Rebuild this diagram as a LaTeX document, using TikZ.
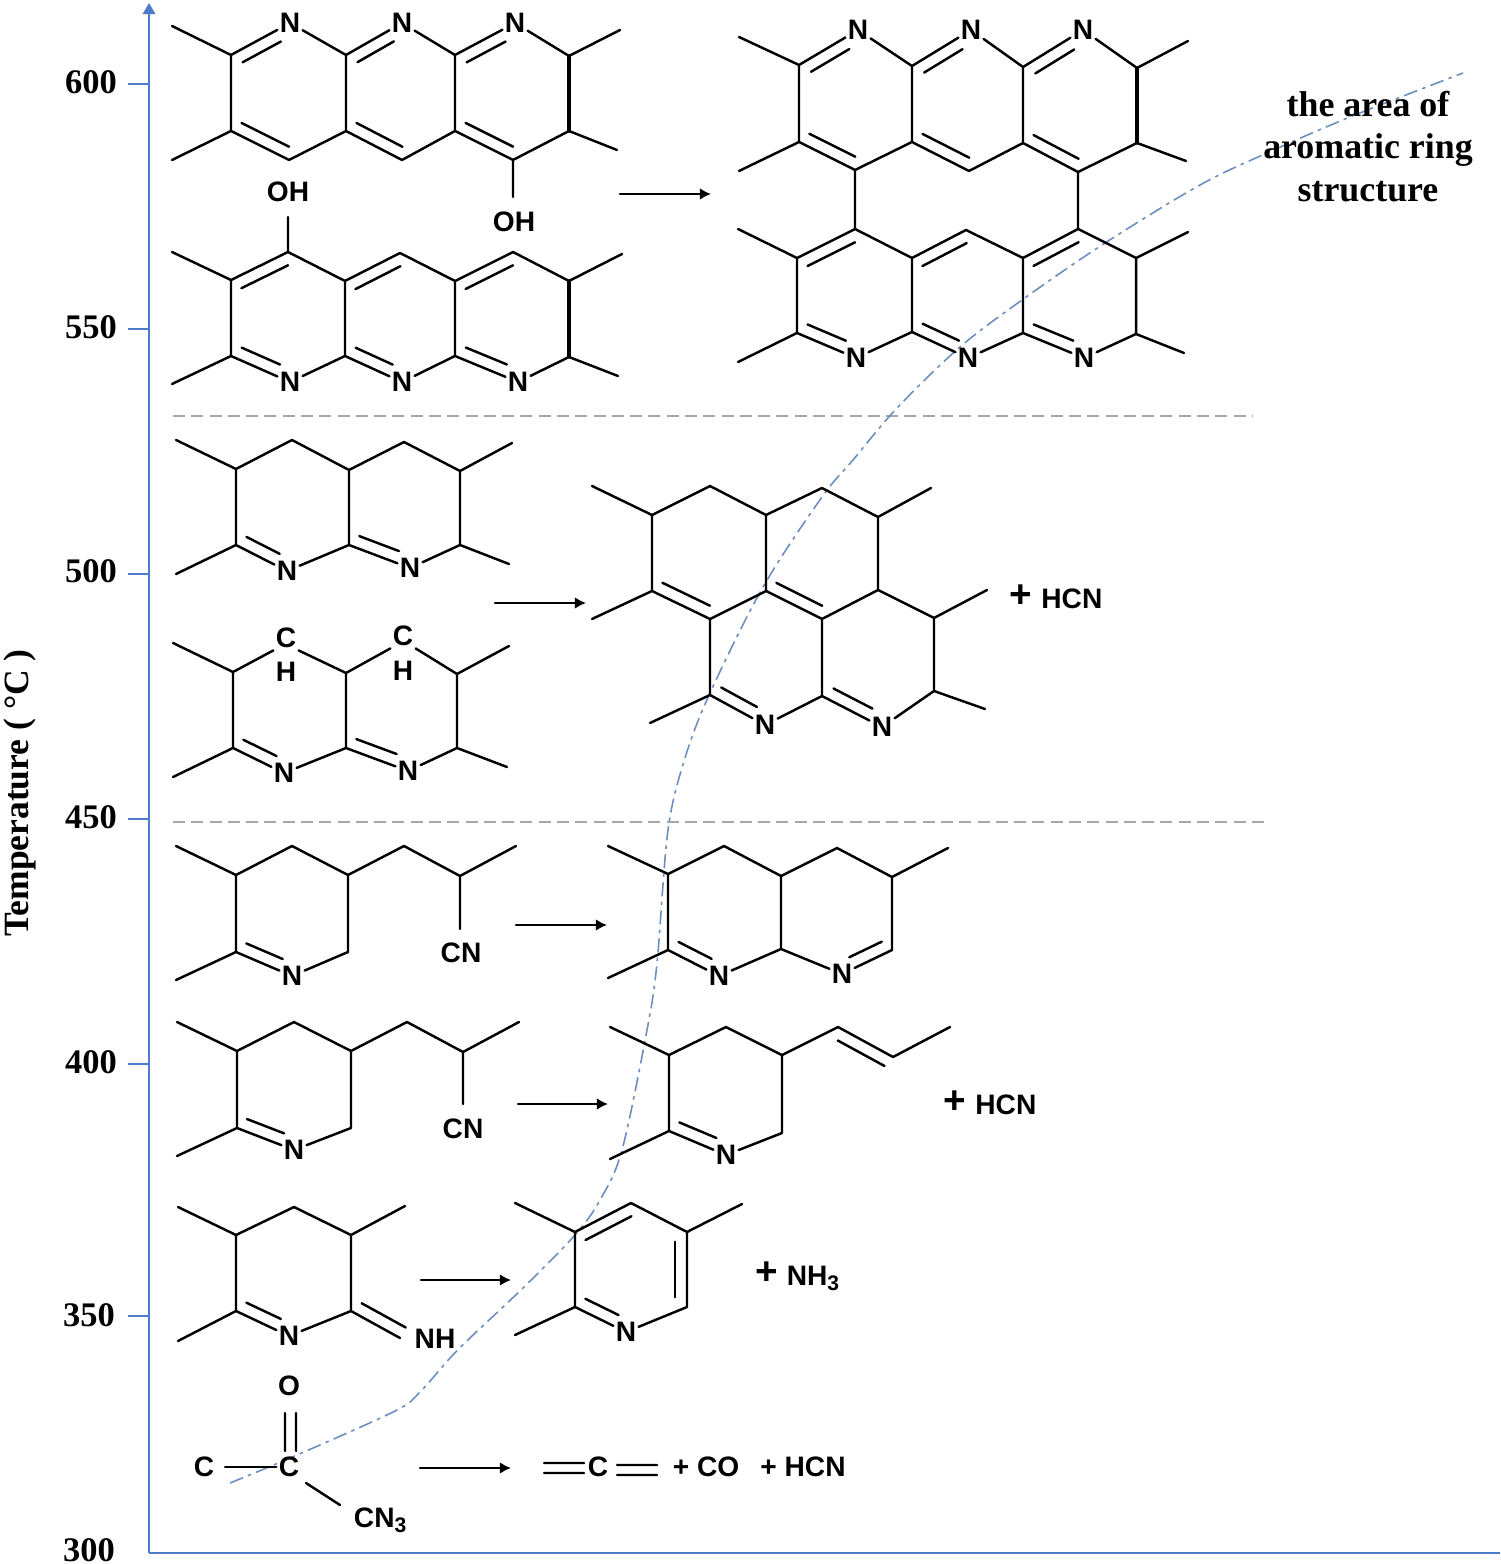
\documentclass[tikz,border=0pt]{standalone}
\usepackage{fontspec}
\setmainfont{Liberation Serif}
\newfontfamily\chemfont{Liberation Sans}
\usetikzlibrary{calc,arrows.meta}
\definecolor{axisblue}{HTML}{4F7BCB}
\definecolor{curveblue}{HTML}{6C8EBF}
\definecolor{sepgray}{HTML}{A6A6A6}
\newcommand{\bigplus}{\raisebox{.2pt}{\fontsize{11}{11}\selectfont+}\hspace{2.6pt}}
\tikzset{atom/.style={font=\chemfont\bfseries\fontsize{8}{8}\selectfont,inner sep=.7pt,outer sep=0pt},
  numlab/.style={font=\bfseries\fontsize{9.8}{9.8}\selectfont,inner sep=0pt},
  arealab/.style={font=\bfseries\fontsize{10.2}{10.2}\selectfont,inner sep=0pt,anchor=base},
  axisline/.style={draw=axisblue,line width=.55pt,line cap=butt},
  sepline/.style={draw=sepgray,line width=.5pt,line cap=butt,dash pattern=on 3.4pt off 1.8pt},
  react/.style={-{Latex[length=3.2pt,width=3.4pt]}},
  heavy/.style={line width=.95pt}}

\begin{document}
\begin{tikzpicture}[x=0.01cm,y=-0.01cm,line join=round,line cap=round,line width=.7pt]
\useasboundingbox (0,0) rectangle (1500,1564);
% axis
\coordinate (o) at (149,1553);
\coordinate (top) at (149,3);
\coordinate (right) at (1500,1553);
\draw[axisline,-{Triangle[length=3.2pt,width=3.6pt]}] (o)--(top);
\draw[axisline] (o)--(right);
\foreach \i/\x/\y/\t in {600/91/82/84,550/91/327/329,500/91/571/574,450/91/817/819,400/91/1062/1064,350/89/1315/1316}{
\node[numlab] (l\i) at (\x,\y) {\i};
\coordinate (v\i) at (149,\t);
\draw[axisline] (v\i)--++(-21,0);}
\node[numlab] (l300) at (89,1550) {300};
\node[numlab,font=\bfseries\fontsize{10.1}{10.1}\selectfont,rotate=90] (ylab) at (20,793) {Temperature ( °C )};
% separators
\coordinate (u1) at (173,416); \coordinate (u2) at (1252,416);
\coordinate (u3) at (173,822); \coordinate (u4) at (1268,822);
\draw[sepline] (u1)--(u2) (u3)--(u4);
% boundary of the aromatic area
\draw[curveblue,line width=.45pt,line cap=butt,dash pattern=on 4pt off 1.5pt on 1pt off 1.5pt] plot[smooth,tension=.55] coordinates {(230,1483)(297,1455)(395,1411)(420,1392)(450,1358)(471,1337)(524,1287)(575,1235)(600,1200)(622,1150)(647,1030)(657,963)(668,830)(685,758)(710,693)(763,587)(822,497)(853,460)(897,408)(960,347)(1022,300)(1105,243)(1200,185)(1267,153)(1350,117)(1463,73)};
\node[arealab] (area1) at (1368,117) {the area of};
\node[arealab] (area2) at (1368,159) {aromatic ring};
\node[arealab] (area3) at (1368,202) {structure};
% atoms
\foreach \i/\x/\y in {na1/290/23,na2/402/23,na3/515/23,nb1/290/382,nb2/402/382,nb3/518/382,nc1/858/30,nc2/971/30,nc3/1083/30,nd1/856/358,nd2/968/358,nd3/1084/358,ne1/287/571,ne2/410/568,nf1/284/773,nf2/408/771,ng1/765/725,ng2/882/727,nh1/292/976,nk1/719/976,nk2/842/974,nl1/294/1150,nm1/726/1155,np1/289/1336,nq1/626/1332}{
\node[atom] (\i) at (\x,\y) {N};}
\foreach \i/\x/\y/\t in {oh1/288/192/OH,oh2/514/222/OH,cf1/286/638/C,hf1/286/672/H,cf2/403/636/C,hf2/403/671/H,cn1/461/953/CN,cn2/463/1129/CN,nh/435/1339/NH,cr1/204/1467/C,cr2/289/1467/C,or/289/1386/O,cs/598/1467/C}{
\node[atom] (\i) at (\x,\y) {\t};}
\node[atom] (cn3) at (381,1520) {CN\textsubscript{3}};
% ring corners and free ends
\foreach \i/\x/\y in {a1/231/55,a2/346/55,a3/455/55,a4/569/56,a5/569/131,a6/513/160,a7/455/131,a8/402/160,a9/346/131,a10/289/160,a11/231/131,a12/172/26,a13/172/160,a14/620/30,a15/617/150,a16/513/197,
b1/231/280,b2/288/252,b3/345/281,b4/400/253,b5/455/281,b6/513/252,b7/569/281,b8/569/357,b9/455/356,b10/345/356,b11/231/356,b12/172/252,b13/172/384,b14/622/254,b15/618/376,b16/288/217,
c1/799/65,c2/912/66,c3/1023/67,c4/1137/68,c5/1137/143,c6/1078/172,c7/1023/143,c8/969/171,c9/912/142,c10/855/170,c11/799/142,c12/739/37,c13/739/171,c14/1188/41,c15/1186/161,
d1/797/258,d2/855/229,d3/912/258,d4/966/230,d5/1023/258,d6/1078/229,d7/1136/258,d8/1136/334,d9/1023/333,d10/912/332,d11/797/333,d12/738/229,d13/738/362,d14/1188/232,d15/1184/353,
e1/236/469,e2/292/440,e3/349/470,e4/404/442,e5/460/471,e6/460/545,e7/349/545,e8/236/545,e9/176/440,e10/176/574,e11/512/443,e12/509/564,
f1/233/672,f2/346/673,f3/457/674,f4/457/748,f5/346/748,f6/233/748,f7/173/643,f8/173/777,f9/509/646,f10/507/767,
g1/652/515,g2/710/486,g3/766/515,g4/822/488,g5/878/517,g6/878/590,g7/934/618,g8/934/691,g9/822/696,g10/710/695,g11/710/619,g12/766/591,g13/652/591,g14/822/619,g15/592/486,g16/592/619,g17/931/488,g18/987/590,g19/985/709,g20/650/723,
h1/236/875,h2/292/846,h3/348/875,h4/404/846,h5/460/876,h6/348/952,h7/236/952,h8/176/846,h9/176/980,h10/516/846,h11/460/929,
k1/668/874,k2/724/846,k3/781/876,k4/837/848,k5/892/877,k6/892/950,k7/781/949,k8/668/950,k9/608/846,k10/608/978,k11/948/848,
l1/237/1051,l2/294/1022,l3/351/1051,l4/407/1022,l5/463/1052,l6/351/1128,l7/237/1128,l8/177/1022,l9/177/1156,l10/519/1022,l11/463/1104,
m1/669/1055,m2/726/1027,m3/782/1055,m4/782/1133,m5/669/1131,m6/610/1027,m7/610/1159,m8/838/1027,m9/893/1057,m10/950/1027,
p1/236/1235,p2/294/1207,p3/351/1235,p4/351/1311,p5/236/1311,p6/178/1207,p7/178/1341,p8/405/1206,p9/400/1338,
q1/575/1232,q2/631/1203,q3/687/1232,q4/687/1307,q5/575/1307,q6/515/1203,q7/515/1335,q8/742/1204,
r1/285/1413,r2/285/1451,r3/296/1413,r4/296/1451,r5/306/1483,r6/340/1505,
s1/544/1463,s2/584/1463,s3/544/1473,s4/584/1473,s5/617/1465,s6/657/1465,s7/617/1475,s8/657/1475,
t1/620/194,t2/711/194,t3/495/603,t4/586/603,t5/516/925,t6/607/925,t7/518/1104,t8/608/1104,t9/421/1280,t10/511/1280,t11/420/1468,t12/511/1468}{
\coordinate (\i) at (\x,\y);}
% bonds
\draw (a12)--(a1)--(na1)--(a2)--(na2)--(a3)--(na3)--(a4)--(a14) (a5)--(a6)--(a7)--(a8)--(a9)--(a10)--(a11)--(a1) (a11)--(a13) (a5)--(a15) (a2)--(a9) (a3)--(a7) (a6)--(a16);
\draw[heavy] (a4)--(a5);
\draw (b12)--(b1)--(b2)--(b3)--(b4)--(b5)--(b6)--(b7)--(b14) (b8)--(nb3)--(b9)--(nb2)--(b10)--(nb1)--(b11)--(b1) (b11)--(b13) (b8)--(b15) (b3)--(b10) (b5)--(b9) (b2)--(b16);
\draw[heavy] (b7)--(b8);
\draw (c12)--(c1)--(nc1)--(c2)--(nc2)--(c3)--(nc3)--(c4)--(c14) (c5)--(c6)--(c7)--(c8)--(c9)--(c10)--(c11)--(c1) (c11)--(c13) (c5)--(c15) (c2)--(c9) (c3)--(c7) (c10)--(d2) (c6)--(d6);
\draw[heavy] (c4)--(c5);
\draw (d12)--(d1)--(d2)--(d3)--(d4)--(d5)--(d6)--(d7)--(d14) (d7)--(d8)--(nd3)--(d9)--(nd2)--(d10)--(nd1)--(d11)--(d1) (d11)--(d13) (d8)--(d15) (d3)--(d10) (d5)--(d9);
\draw (e9)--(e1)--(e2)--(e3)--(e4)--(e5)--(e11) (e5)--(e6)--(ne2)--(e7)--(ne1)--(e8)--(e1) (e8)--(e10) (e6)--(e12) (e3)--(e7);
\draw (f7)--(f1)--(cf1.south west) (cf1.south east)--(f2)--(cf2.south west) (cf2.south east)--(f3)--(f9) (f3)--(f4)--(nf2)--(f5)--(nf1)--(f6)--(f1) (f6)--(f8) (f4)--(f10) (f2)--(f5);
\draw (g15)--(g1)--(g2)--(g3)--(g4)--(g5)--(g17) (g5)--(g6)--(g7)--(g18) (g7)--(g8)--(g19) (g8)--(ng2)--(g9)--(ng1)--(g10)--(g20) (g10)--(g11)--(g13)--(g1) (g13)--(g16) (g11)--(g12)--(g3) (g12)--(g14)--(g6) (g14)--(g9);
\draw (h8)--(h1)--(h2)--(h3)--(h4)--(h5)--(h10) (h5)--(h11) (h3)--(h6)--(nh1)--(h7)--(h1) (h7)--(h9);
\draw (k9)--(k1)--(k2)--(k3)--(k4)--(k5)--(k11) (k5)--(k6)--(nk2)--(k7)--(nk1)--(k8)--(k1) (k8)--(k10) (k3)--(k7);
\draw (l8)--(l1)--(l2)--(l3)--(l4)--(l5)--(l10) (l5)--(l11) (l3)--(l6)--(nl1)--(l7)--(l1) (l7)--(l9);
\draw (m6)--(m1)--(m2)--(m3)--(m8)--(m9)--(m10) (m3)--(m4)--(nm1)--(m5)--(m1) (m5)--(m7);
\draw (p6)--(p1)--(p2)--(p3)--(p8) (p3)--(p4)--(np1)--(p5)--(p1) (p5)--(p7) (p4)--(p9);
\draw (q6)--(q1)--(q2)--(q3)--(q8) (q3)--(q4)--(nq1)--(q5)--(q1) (q5)--(q7);
\draw[shorten <=2.4pt] (cr1)--(cr2);
\draw (r1)--(r2) (r3)--(r4) (r5)--(r6) (s1)--(s2) (s3)--(s4) (s5)--(s6) (s7)--(s8);
% inner lines of the double bonds
\foreach \i/\j/\f/\g in {a1/na1/.1/.25,a2/na2/.1/.25,a3/na3/.1/.25,a10/a11/.09/.09,a8/a9/.09/.09,a6/a7/.09/.09,
b1/b2/.09/.09,b3/b4/.09/.09,b5/b6/.09/.09,nb1/b11/.25/.1,nb2/b10/.25/.1,nb3/b9/.25/.1,
c1/nc1/.1/.25,c2/nc2/.1/.25,c3/nc3/.1/.25,c10/c11/.09/.09,c8/c9/.09/.09,c6/c7/.09/.09,
d1/d2/.09/.09,d3/d4/.09/.09,d5/d6/.09/.09,nd1/d11/.25/.1,nd2/d10/.25/.1,nd3/d9/.25/.1,
ne1/e8/.25/.1,ne2/e7/.25/.1,nf1/f6/.25/.1,nf2/f5/.25/.1,
g11/g13/.09/.09,g14/g12/.09/.09,ng1/g10/.25/.1,ng2/g9/.25/.1,
nh1/h7/.25/.1,nk1/k8/.25/.1,k6/nk2/.1/.25,nl1/l7/.25/.1,nm1/m5/.25/.1,m8/m9/.1/.05,
np1/p5/.25/.1,p9/p4/.0/.1,q1/q2/.09/.09,q3/q4/.13/.13,nq1/q5/.25/.1}{
\draw ($(\i)!\f!(\j)!3.4pt!-90:(\j)$)--($(\j)!\g!(\i)!3.4pt!90:(\i)$);}
% reaction arrows
\foreach \i/\j in {t1/t2,t3/t4,t5/t6,t7/t8,t9/t10,t11/t12}{\draw[react] (\i)--(\j);}
% by-products
\node[atom] (hcn1) at (1056,597) {\bigplus HCN};
\node[atom] (hcn2) at (990,1103) {\bigplus HCN};
\node[atom] (nh3) at (798,1276) {\bigplus NH\textsubscript{3}};
\node[atom] (co) at (706,1467) {+ CO};
\node[atom] (hcn3) at (803,1467) {+ HCN};
\end{tikzpicture}
\end{document}
